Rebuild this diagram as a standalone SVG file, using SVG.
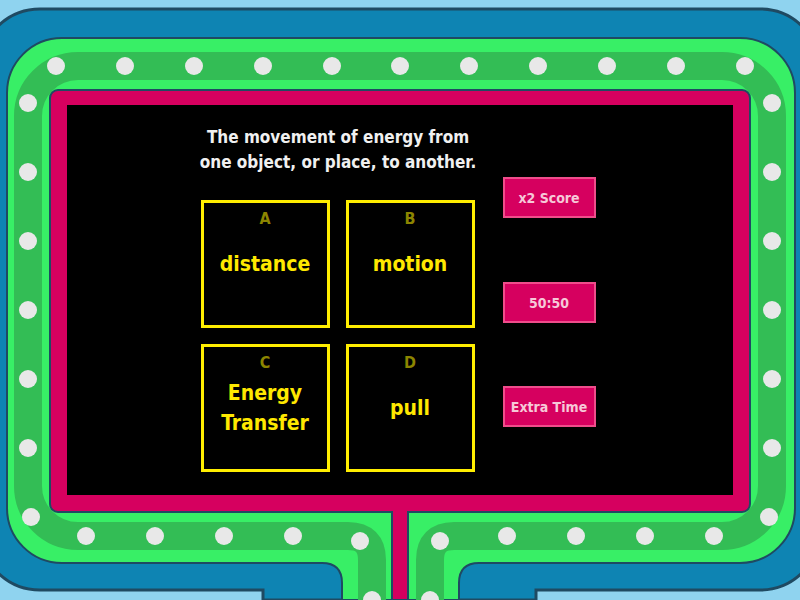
<svg xmlns="http://www.w3.org/2000/svg" width="800" height="600" viewBox="0 0 800 600">
<style>
.dot{fill:#e8e8e8}
.box{fill:#000;stroke:#ffee00;stroke-width:3}
.let{font-family:"DejaVu Sans Condensed","Liberation Sans",sans-serif;font-weight:bold;font-size:16px;fill:#8c8500;text-anchor:middle}
.ans{font-family:"DejaVu Sans Condensed","Liberation Sans",sans-serif;font-weight:bold;font-size:21px;fill:#ffe800;text-anchor:middle}
.btn rect{fill:#d6005f;stroke:#ef4d8b;stroke-width:2}
.btn text{font-family:"DejaVu Sans Condensed","Liberation Sans",sans-serif;font-weight:bold;font-size:14px;fill:#f6c8d8;text-anchor:middle}
.q{font-family:"DejaVu Sans Condensed","Liberation Sans",sans-serif;font-weight:bold;font-size:17px;fill:#f0f0f0;text-anchor:middle}
</style>
<rect width="800" height="600" fill="#8fd3ef"/>
<g id="frame">
<path d="M263,600 V590 H40 A60,60 0 0 1 -20,530 V70 A60,60 0 0 1 40,9 H760 A60,60 0 0 1 820,70 V530 A60,60 0 0 1 760,590 H536 V600 Z" fill="#0e84b3" stroke="#1f4a62" stroke-width="3"/>
<path d="M342,600 V583 Q342,563 322,563 H62 A55,55 0 0 1 7,508 V93 A55,55 0 0 1 62,38 H740 A55,55 0 0 1 795,93 V508 A55,55 0 0 1 740,563 H479 Q459,563 459,583 V600 Z" fill="#38ef66" stroke="#1f4a62" stroke-width="2"/>
<path d="M372,600 V560 Q372,536 348,536 H78 A50,50 0 0 1 28,486 V116 A50,50 0 0 1 78,66 H722 A50,50 0 0 1 772,116 V486 A50,50 0 0 1 722,536 H454 Q430,536 430,560 V600" fill="none" stroke="#33bd55" stroke-width="28"/>
<path d="M392,600 V512 H58 A8,8 0 0 1 50,504 V98 A8,8 0 0 1 58,90 H742 A8,8 0 0 1 750,98 V504 A8,8 0 0 1 742,512 H408 V600 Z" fill="#d6005f" stroke="#1f4a62" stroke-width="2"/>
<rect x="67" y="105" width="666" height="390" fill="#000"/>
<g id="dots">
<circle class="dot" cx="56" cy="66" r="9"/><circle class="dot" cx="125" cy="66" r="9"/><circle class="dot" cx="194" cy="66" r="9"/><circle class="dot" cx="263" cy="66" r="9"/><circle class="dot" cx="332" cy="66" r="9"/><circle class="dot" cx="400" cy="66" r="9"/><circle class="dot" cx="469" cy="66" r="9"/><circle class="dot" cx="538" cy="66" r="9"/><circle class="dot" cx="607" cy="66" r="9"/><circle class="dot" cx="676" cy="66" r="9"/><circle class="dot" cx="745" cy="66" r="9"/>
<circle class="dot" cx="28" cy="103" r="9"/><circle class="dot" cx="28" cy="172" r="9"/><circle class="dot" cx="28" cy="241" r="9"/><circle class="dot" cx="28" cy="310" r="9"/><circle class="dot" cx="28" cy="379" r="9"/><circle class="dot" cx="28" cy="448" r="9"/><circle class="dot" cx="31" cy="517" r="9"/>
<circle class="dot" cx="772" cy="103" r="9"/><circle class="dot" cx="772" cy="172" r="9"/><circle class="dot" cx="772" cy="241" r="9"/><circle class="dot" cx="772" cy="310" r="9"/><circle class="dot" cx="772" cy="379" r="9"/><circle class="dot" cx="772" cy="448" r="9"/><circle class="dot" cx="769" cy="517" r="9"/>
<circle class="dot" cx="86" cy="536" r="9"/><circle class="dot" cx="155" cy="536" r="9"/><circle class="dot" cx="224" cy="536" r="9"/><circle class="dot" cx="293" cy="536" r="9"/><circle class="dot" cx="360" cy="541" r="9"/>
<circle class="dot" cx="440" cy="541" r="9"/><circle class="dot" cx="507" cy="536" r="9"/><circle class="dot" cx="576" cy="536" r="9"/><circle class="dot" cx="645" cy="536" r="9"/><circle class="dot" cx="714" cy="536" r="9"/>
<circle class="dot" cx="372" cy="600" r="9"/><circle class="dot" cx="430" cy="600" r="9"/>
</g>
</g>
<g id="question">
<text class="q" x="338" y="143">The movement of energy from</text>
<text class="q" x="338" y="168">one object, or place, to another.</text>
</g>
<g id="optA"><rect class="box" x="202.5" y="201.5" width="126" height="125"/><text class="let" x="265" y="224">A</text><text class="ans" x="265" y="271">distance</text></g>
<g id="optB"><rect class="box" x="347.5" y="201.5" width="126" height="125"/><text class="let" x="410" y="224">B</text><text class="ans" x="410" y="271">motion</text></g>
<g id="optC"><rect class="box" x="202.5" y="345.5" width="126" height="125"/><text class="let" x="265" y="368">C</text><text class="ans" x="265" y="400">Energy</text><text class="ans" x="265" y="430">Transfer</text></g>
<g id="optD"><rect class="box" x="347.5" y="345.5" width="126" height="125"/><text class="let" x="410" y="368">D</text><text class="ans" x="410" y="415">pull</text></g>
<g id="btnScore" class="btn"><rect x="504" y="178" width="91" height="39"/><text x="549" y="203">x2 Score</text></g>
<g id="btn5050" class="btn"><rect x="504" y="283" width="91" height="39"/><text x="549" y="308">50:50</text></g>
<g id="btnTime" class="btn"><rect x="504" y="387" width="91" height="39"/><text x="549" y="412">Extra Time</text></g>
</svg>
